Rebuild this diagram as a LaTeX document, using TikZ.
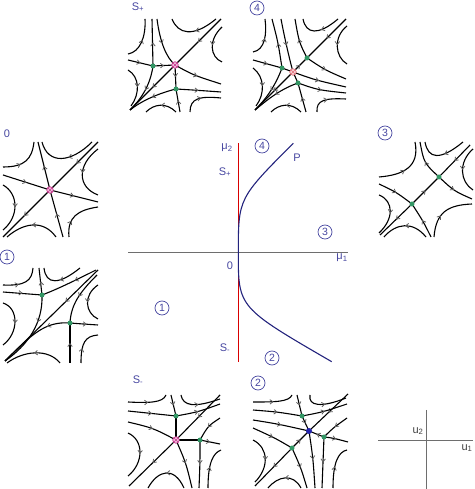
\documentclass[tikz,border=0pt]{standalone}
\usepackage{fontspec}
\setmainfont{Liberation Sans}
\usetikzlibrary{decorations.markings,arrows.meta}
\definecolor{lblue}{RGB}{70,70,160}
\definecolor{pblue}{RGB}{35,35,125}
\definecolor{sgreen}{RGB}{50,150,100}
\definecolor{smag}{RGB}{200,50,140}
\definecolor{spink}{RGB}{225,110,120}
\definecolor{nblue}{RGB}{35,35,175}
\definecolor{ngray}{RGB}{110,110,110}
\definecolor{agray}{RGB}{95,95,95}

\begin{document}
\begin{tikzpicture}[x=1pt,y=1pt]
\tikzset{traj/.style={line width=1.1pt}}
\tikzset{ar/.style={postaction={decorate,decoration={markings,mark=at position #1 with {\arrow[agray]{Straight Barb[length=3pt,width=4.5pt,line width=0.8pt]}}}}},ar/.default=0.5}
\tikzset{saddle/.style={circle,fill=sgreen,inner sep=0pt,minimum size=5pt}}
\tikzset{xpt/.style={circle,draw=#1,fill=#1!30,line width=0.7pt,inner sep=0pt,minimum size=6.5pt,path picture={\draw[#1,line width=0.6pt] (path picture bounding box.north west) -- (path picture bounding box.south east) (path picture bounding box.north east) -- (path picture bounding box.south west);}}}
\tikzset{bnode/.style={circle,fill=nblue,inner sep=0pt,minimum size=6pt}}
\tikzset{lab/.style={text=lblue,font=\fontsize{11}{13}\selectfont,inner sep=1pt}}
\tikzset{num/.style={circle,draw=lblue,text=lblue,line width=0.7pt,font=\fontsize{10.5}{12}\selectfont,inner sep=0pt,minimum size=14pt}}
\tikzset{axis/.style={ngray,line width=1pt}}
\useasboundingbox (0,0) rectangle (474,489);

% parameter plane
\draw[axis] (128,236) -- (348,236);
\draw[red!85!black,line width=1.1pt] (238.3,345.7) -- (238.3,127.3);
\draw[pblue,line width=1.1pt] (293.3,345.7) .. controls (238.3,290.7) .. (238.3,235.7)
  .. controls (238.3,181.5) .. (331.7,127.3);
\node[lab] (mu2) at (227,341) {μ\textsubscript{2}};
\node[lab] (spl) at (225,317) {S\textsubscript{+}};
\node[num] (c4) at (262,343) {4};
\node[lab] (pl) at (297,331) {P};
\node[num] (c3) at (325,257) {3};
\node[lab] (zl) at (230,223) {0};
\node[lab] (mu1) at (342,231) {μ\textsubscript{1}};
\node[num] (c1) at (162,181) {1};
\node[lab] (sml) at (225,141) {S\textsubscript{-}};
\node[num] (c2) at (272,131) {2};

% panel labels
\node[lab] (tsp) at (138,482) {S\textsubscript{+}};
\node[num] (t4) at (257,481) {4};
\node[lab] (t0) at (7,355) {0};
\node[num] (t1) at (7,232) {1};
\node[num] (t3) at (385,356) {3};
\node[lab] (tsm) at (138,109) {S\textsubscript{-}};
\node[num] (t2) at (258,106) {2};

% panel 0
\begin{scope}[shift={(3,252)}]
\coordinate (z0) at (47,47);
\draw[traj,ar] (0,62) -- (z0);
\draw[traj,ar] (z0) -- (95,35);
\draw[traj,ar] (60,0) -- (z0);
\draw[traj,ar] (z0) -- (35,95);
\draw[traj,ar=0.45] (95,95) -- (z0);
\draw[traj,ar=0.55] (z0) -- (0,0);
\draw[traj,ar=0.45] (89,95) .. controls (68,74) and (45,72) .. (39,95);
\draw[traj,ar] (95,88) .. controls (74,72) and (74,50) .. (95,42);
\draw[traj,ar=0.35] (66,0) .. controls (64,20) and (75,27) .. (95,30);
\draw[traj,ar] (53,0) .. controls (40,18) and (20,14) .. (4,0);
\draw[traj,ar] (0,52) .. controls (16,43) and (16,20) .. (0,7);
\draw[traj,ar=0.4] (0,70) .. controls (22,70) and (29,78) .. (31,95);
\node[xpt=smag] (z0p) at (z0) {};
\end{scope}

% panel 1
\begin{scope}[shift={(3,126)}]
\coordinate (o1a) at (39,68);
\coordinate (o1b) at (67,40);
\draw[traj,ar=0.35] (95,93) -- (2,2);
\draw[traj,ar] (0,71) .. controls (20,70) .. (o1a);
\draw[traj,ar] (o1a) .. controls (38,82) .. (36,95);
\draw[traj,ar=0.35] (o1a) .. controls (40,40) and (25,18) .. (2,2);
\draw[traj,ar=0.4] (93,93) .. controls (75,84) and (55,74) .. (o1a);
\draw[traj,ar=0.3] (o1b) .. controls (42,42) and (28,28) .. (2,2);
\draw[traj,ar] (67,0) -- (o1b);
\draw[traj,ar=0.6] (o1b) .. controls (80,39) .. (95,38);
\draw[traj,ar] (94,88) .. controls (76,70) and (68,58) .. (o1b);
\draw[traj,ar=0.4] (0,78) .. controls (22,77) and (29,82) .. (30,95);
\draw[traj,ar] (77,95) .. controls (56,78) and (43,78) .. (41,95);
\draw[traj,ar] (95,78) .. controls (80,68) and (82,50) .. (95,44);
\draw[traj,ar=0.4] (78,0) .. controls (78,20) and (82,27) .. (95,28);
\draw[traj,ar] (57,0) .. controls (45,15) and (20,12) .. (4,0);
\draw[traj,ar] (0,60) .. controls (16,55) and (16,30) .. (0,18);
\node[saddle] (o1ap) at (o1a) {};
\node[saddle] (o1bp) at (o1b) {};
\end{scope}

% panel 3
\begin{scope}[shift={(378,252)}]
\coordinate (t3a) at (34,33);
\coordinate (t3b) at (61,60);
\draw[traj,ar] (1,53) .. controls (18,45) .. (t3a);
\draw[traj,ar] (53,0) .. controls (45,16) .. (t3a);
\draw[traj,ar] (t3a) -- (t3b);
\draw[traj,ar] (t3a) -- (2,2);
\draw[traj,ar] (92,92) -- (t3b);
\draw[traj,ar] (t3b) .. controls (46,74) .. (42,95);
\draw[traj,ar] (t3b) .. controls (76,46) .. (94,38);
\draw[traj,ar=0.45] (1,60) .. controls (25,62) and (42,70) .. (37,95);
\draw[traj,ar=0.45] (85,95) .. controls (62,76) and (50,78) .. (47,95);
\draw[traj,ar] (95,88) .. controls (80,75) and (82,55) .. (95,47);
\draw[traj,ar=0.4] (56,0) .. controls (58,25) and (70,32) .. (94,33);
\draw[traj,ar] (48,0) .. controls (35,16) and (18,14) .. (6,0);
\draw[traj,ar] (1,42) .. controls (16,36) and (16,18) .. (1,4);
\node[saddle] (t3ap) at (t3a) {};
\node[saddle] (t3bp) at (t3b) {};
\end{scope}

% panel S+
\begin{scope}[shift={(128,377)}]
\coordinate (spm) at (47,47);
\coordinate (spa) at (25,46);
\coordinate (spb) at (48,23);
\draw[traj,ar] (93,93) -- (spm);
\draw[traj,ar] (spm) -- (2,2);
\draw[traj,ar] (0,52) -- (spa);
\draw[traj,ar] (spa) -- (spm);
\draw[traj,ar] (spm) .. controls (65,37) .. (93,28);
\draw[traj,ar] (spa) .. controls (25,70) .. (24,93);
\draw[traj,ar] (spa) .. controls (22,25) and (12,12) .. (2,2);
\draw[traj,ar] (29,93) .. controls (32,70) and (38,55) .. (spm);
\draw[traj,ar] (spm) -- (spb);
\draw[traj,ar] (52,0) -- (spb);
\draw[traj,ar] (spb) .. controls (65,22) .. (93,20);
\draw[traj,ar] (spb) .. controls (28,18) and (12,10) .. (2,2);
\draw[traj,ar] (0,58) .. controls (12,60) and (18,75) .. (17,93);
\draw[traj,ar=0.45] (88,93) .. controls (65,74) and (50,78) .. (44,93);
\draw[traj,ar] (94,85) .. controls (80,72) and (82,55) .. (94,50);
\draw[traj,ar] (62,0) .. controls (62,14) and (72,16) .. (93,14);
\draw[traj,ar] (48,0) .. controls (38,10) and (26,8) .. (18,0);
\draw[traj,ar] (0,42) .. controls (12,35) and (12,18) .. (3,6);
\node[saddle] (spap) at (spa) {};
\node[saddle] (spbp) at (spb) {};
\node[xpt=smag] (spmp) at (spm) {};
\end{scope}

% panel 4
\begin{scope}[shift={(253,377)}]
\coordinate (f4a) at (29,44);
\coordinate (f4r) at (40,40);
\coordinate (f4b) at (54,54);
\coordinate (f4c) at (45,29);
\draw[traj,ar] (f4r) -- (2,2);
\draw[traj,ar] (f4r) -- (f4b);
\draw[traj,ar] (93,93) -- (f4b);
\draw[traj,ar] (0,52) -- (f4a);
\draw[traj] (f4a) -- (f4r);
\draw[traj,ar] (f4r) .. controls (62,32) .. (93,25);
\draw[traj,ar] (f4a) .. controls (25,70) .. (19,93);
\draw[traj,ar] (f4a) .. controls (22,25) and (12,12) .. (2,2);
\draw[traj] (f4r) -- (f4c);
\draw[traj,ar] (53,0) -- (f4c);
\draw[traj,ar] (f4c) .. controls (65,22) .. (93,19);
\draw[traj,ar] (f4c) .. controls (25,22) and (12,10) .. (2,2);
\draw[traj,ar] (f4b) .. controls (46,70) .. (42,93);
\draw[traj,ar] (f4b) .. controls (72,42) .. (93,33);
\draw[traj,ar] (28,93) .. controls (32,72) and (36,55) .. (f4r);
\draw[traj,ar] (0,60) .. controls (12,62) and (14,78) .. (12,93);
\draw[traj,ar=0.45] (85,93) .. controls (65,76) and (53,78) .. (50,93);
\draw[traj,ar] (94,86) .. controls (80,75) and (82,55) .. (94,48);
\draw[traj,ar] (64,0) .. controls (63,12) and (72,14) .. (93,13);
\draw[traj,ar] (48,0) .. controls (38,10) and (26,8) .. (18,0);
\draw[traj,ar] (0,44) .. controls (12,35) and (12,18) .. (3,6);
\node[saddle] (f4ap) at (f4a) {};
\node[saddle] (f4bp) at (f4b) {};
\node[saddle] (f4cp) at (f4c) {};
\node[xpt=spink] (f4rp) at (f4r) {};
\end{scope}

% panel S-
\begin{scope}[shift={(128,1)}]
\coordinate (smm) at (48,48);
\coordinate (sma) at (48,72);
\coordinate (smb) at (72,48);
\draw[traj,ar] (92,93) -- (smm);
\draw[traj,ar] (smm) -- (1,2);
\draw[traj,ar] (43,93) -- (sma);
\draw[traj] (sma) -- (smm);
\draw[traj,ar] (0,77) -- (sma);
\draw[traj,ar] (sma) .. controls (70,76) .. (92,84);
\draw[traj] (smm) -- (smb);
\draw[traj,ar] (smb) -- (92,44);
\draw[traj,ar] (92,70) .. controls (80,62) .. (smb);
\draw[traj,ar] (smb) .. controls (72,25) .. (71,0);
\draw[traj,ar] (0,66) .. controls (25,60) .. (smm);
\draw[traj,ar] (smm) .. controls (58,25) .. (64,0);
\draw[traj,ar] (0,86) .. controls (20,85) and (35,85) .. (38,93);
\draw[traj,ar] (53,93) .. controls (55,82) and (66,80) .. (92,89);
\draw[traj,ar] (80,0) .. controls (80,25) and (85,35) .. (93,38);
\draw[traj,ar] (56,0) .. controls (46,22) and (30,18) .. (20,0);
\draw[traj,ar] (0,55) .. controls (16,48) and (16,25) .. (0,12);
\node[saddle] (smap) at (sma) {};
\node[saddle] (smbp) at (smb) {};
\node[xpt=smag] (smmp) at (smm) {};
\end{scope}

% panel 2
\begin{scope}[shift={(253,1)}]
\coordinate (twn) at (56,57);
\coordinate (twa) at (49,72);
\coordinate (twb) at (71,51);
\coordinate (twc) at (39,40);
\draw[traj,ar] (95,94) -- (twn);
\draw[traj,ar] (twc) -- (twn);
\draw[traj,ar] (twc) -- (2,2);
\draw[traj,ar] (44,93) -- (twa);
\draw[traj,ar] (twa) -- (twn);
\draw[traj,ar] (0,78) .. controls (25,76) .. (twa);
\draw[traj,ar] (twa) .. controls (70,76) .. (94,84);
\draw[traj,ar] (twb) -- (twn);
\draw[traj,ar] (twb) .. controls (80,50) .. (95,46);
\draw[traj,ar] (94,70) .. controls (80,60) .. (twb);
\draw[traj,ar] (twb) .. controls (70,25) .. (69,0);
\draw[traj,ar] (0,60) .. controls (22,50) .. (twc);
\draw[traj,ar] (twc) .. controls (48,20) .. (54,0);
\draw[traj,ar] (twn) .. controls (60,30) .. (62,0);
\draw[traj,ar] (0,68) .. controls (25,64) .. (twn);
\draw[traj,ar] (57,93) .. controls (55,82) and (68,80) .. (93,90);
\draw[traj,ar] (80,0) .. controls (80,25) and (85,36) .. (94,38);
\draw[traj,ar] (0,48) .. controls (16,40) and (16,20) .. (2,6);
\draw[traj,ar] (48,0) .. controls (40,15) and (25,12) .. (15,0);
\draw[traj,ar] (0,86) .. controls (22,86) and (36,86) .. (39,93);
\node[saddle] (twap) at (twa) {};
\node[saddle] (twbp) at (twb) {};
\node[saddle] (twcp) at (twc) {};
\node[bnode] (twnp) at (twn) {};
\end{scope}

% state axes
\draw[axis] (426,79) -- (426,0);
\draw[axis] (378,48) -- (473,48);
\node[text=black!75,font=\fontsize{11}{13}\selectfont] (u2) at (418,58) {u\textsubscript{2}};
\node[text=black!75,font=\fontsize{11}{13}\selectfont] (u1) at (467,41) {u\textsubscript{1}};
\end{tikzpicture}
\end{document}
